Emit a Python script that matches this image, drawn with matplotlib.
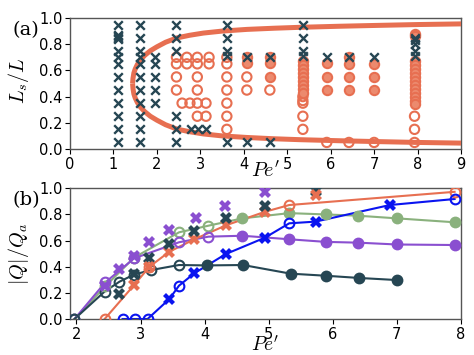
import matplotlib
matplotlib.use("Agg")
import matplotlib.pyplot as plt
import numpy as np

plt.rcParams['mathtext.fontset'] = 'cm'

ORANGE = '#e76f51'
DARK = '#264653'
GREEN = '#8ab17d'
PURPLE = '#8a4fd0'
BLUE = '#0a14f0'

# ---------------- panel (a) data ----------------
curve_up_x = [1.44, 1.45, 1.47, 1.50, 1.55, 1.62, 1.72, 1.85, 2.00, 2.20, 2.46, 2.75, 3.07, 3.50, 4.07, 4.70, 5.30, 6.20, 7.00, 8.00, 9.00]
curve_up_y = [0.50, 0.54, 0.58, 0.61, 0.645, 0.68, 0.715, 0.75, 0.78, 0.815, 0.848, 0.868, 0.885, 0.900, 0.913, 0.922, 0.929, 0.937, 0.943, 0.950, 0.955]
curve_lo_x = [1.44, 1.45, 1.47, 1.50, 1.55, 1.62, 1.72, 1.85, 2.00, 2.20, 2.46, 2.75, 3.07, 3.50, 4.07, 4.70, 5.30, 6.20, 7.00, 8.00, 9.00]
curve_lo_y = [0.50, 0.46, 0.42, 0.39, 0.355, 0.32, 0.285, 0.25, 0.22, 0.185, 0.152, 0.132, 0.115, 0.100, 0.088, 0.078, 0.071, 0.063, 0.057, 0.050, 0.045]

cross_x = ([1.10] * 14 + [1.62] * 11 + [1.96] * 5 + [2.44] * 6 + [2.78, 2.95, 3.12]
           + [3.61] * 5 + [4.07] * 2 + [4.60] * 2 + [5.36] * 4 + [5.91, 6.42, 7.00] + [7.93] * 5)
cross_y = ([0.95, 0.87, 0.86, 0.85, 0.84, 0.75, 0.70, 0.65, 0.55, 0.45, 0.35, 0.25, 0.15, 0.05]
           + [0.95, 0.85, 0.75, 0.70, 0.65, 0.55, 0.45, 0.35, 0.25, 0.15, 0.05]
           + [0.70, 0.65, 0.55, 0.45, 0.35]
           + [0.95, 0.85, 0.75, 0.25, 0.15, 0.05]
           + [0.15, 0.15, 0.15]
           + [0.95, 0.85, 0.75, 0.71, 0.05]
           + [0.70, 0.05] + [0.70, 0.05]
           + [0.95, 0.85, 0.75, 0.71]
           + [0.70, 0.70, 0.70]
           + [0.85, 0.83, 0.80, 0.75, 0.71])

open_x = ([2.45, 2.69, 2.93, 3.20] * 2 + [2.45, 2.93] * 2 + [2.58, 2.76, 2.93, 3.13] + [2.93, 3.13]
          + [3.61] * 7 + [4.07, 4.07] + [4.60] + [5.36] * 5 + [5.91, 6.42, 7.00] + [7.93] * 3)
open_y = ([0.70] * 4 + [0.65] * 4 + [0.55, 0.55, 0.45, 0.45] + [0.35] * 4 + [0.25, 0.25]
          + [0.70, 0.65, 0.55, 0.45, 0.35, 0.25, 0.15] + [0.55, 0.45] + [0.45]
          + [0.40, 0.37, 0.35, 0.25, 0.15] + [0.05, 0.05, 0.05] + [0.25, 0.15, 0.05])

fill_x = ([4.07, 4.07] + [4.60] * 3 + [5.36] * 9 + [5.91] * 3 + [6.42] * 4 + [7.00] * 3 + [7.93] * 14)
fill_y = ([0.70, 0.66] + [0.70, 0.66, 0.55]
          + [0.67, 0.64, 0.61, 0.58, 0.55, 0.52, 0.49, 0.46, 0.43]
          + [0.66, 0.55, 0.45] + [0.70, 0.65, 0.55, 0.45] + [0.65, 0.55, 0.45]
          + [0.88, 0.86, 0.67, 0.64, 0.61, 0.58, 0.55, 0.52, 0.49, 0.46, 0.43, 0.40, 0.37, 0.34])

# ---------------- panel (b) data ----------------
dark_x = [1.97, 2.44, 2.67, 2.90, 3.17, 3.60, 4.03, 4.60, 5.34, 5.89, 6.41, 7.00]
dark_y = [0.0, 0.21, 0.285, 0.34, 0.375, 0.413, 0.41, 0.413, 0.347, 0.331, 0.314, 0.298]
dark_fill = [False] * 6 + [True] * 6

green_x = [1.97, 2.45, 2.90, 3.60, 4.06, 4.59, 5.32, 5.89, 6.40, 7.00, 7.90]
green_y = [0.0, 0.25, 0.47, 0.663, 0.714, 0.77, 0.81, 0.80, 0.79, 0.77, 0.74]
green_fill = [False] * 5 + [True] * 6

purple_x = [1.97, 2.45, 2.90, 3.60, 4.06, 4.59, 5.32, 5.89, 6.40, 7.00, 7.90]
purple_y = [0.0, 0.28, 0.464, 0.587, 0.63, 0.637, 0.61, 0.59, 0.584, 0.57, 0.566]
purple_fill = [False] * 5 + [True] * 6

orange_x = [2.44, 2.90, 3.14, 3.45, 3.84, 4.34, 4.94, 5.32, 7.90]
orange_y = [0.0, 0.26, 0.40, 0.515, 0.61, 0.718, 0.82, 0.872, 0.973]
orange_mk = ['o', 'X', 'o', 'X', 'X', 'X', 'X', 'o', 'o']

blue_x = [2.72, 2.91, 3.11, 3.45, 3.60, 3.84, 4.33, 4.94, 5.32, 5.73, 6.89, 7.90]
blue_y = [0.0, 0.0, 0.0, 0.153, 0.255, 0.35, 0.497, 0.622, 0.732, 0.745, 0.872, 0.918]
blue_mk = ['o', 'o', 'o', 'X', 'o', 'X', 'X', 'X', 'o', 'X', 'X', 'o']

purpleX_x = [2.45, 2.67, 2.90, 3.14, 3.45, 3.86, 4.32, 4.94]
purpleX_y = [0.25, 0.38, 0.48, 0.59, 0.68, 0.77, 0.865, 0.97]
darkX_x = [2.67, 2.90, 3.14, 3.45, 3.84, 4.33, 4.94, 5.74]
darkX_y = [0.19, 0.345, 0.47, 0.575, 0.675, 0.77, 0.867, 0.98]
orangeX_x = [3.14, 5.74]
orangeX_y = [0.40, 0.95]

fig = plt.figure(figsize=(4.74, 3.55), dpi=100)
ax1 = fig.add_axes([0.1477, 0.5803, 0.9726 - 0.1477, 0.9493 - 0.5803])
ax2 = fig.add_axes([0.1477, 0.1014, 0.9726 - 0.1477, 0.4696 - 0.1014])

# panel (a)
ax1.plot(curve_up_x, curve_up_y, color=ORANGE, lw=3.6, solid_capstyle='butt', zorder=3)
ax1.plot(curve_lo_x, curve_lo_y, color=ORANGE, lw=3.6, solid_capstyle='butt', zorder=3)
ax1.scatter(open_x, open_y, s=45, facecolors='none', edgecolors=ORANGE, linewidths=1.5, zorder=2)
ax1.scatter(fill_x, fill_y, s=45, facecolors='#ec8a6e', edgecolors=ORANGE, linewidths=1.5, zorder=2)
ax1.scatter(cross_x, cross_y, s=38, marker='x', color=DARK, linewidths=1.7, zorder=4)
ax1.set_xlim(0, 9)
ax1.set_ylim(0, 1)
ax1.set_xticks(range(0, 10))
ax1.set_yticks([0.0, 0.2, 0.4, 0.6, 0.8, 1.0])
ax1.set_ylabel(r'$L_s/L$', fontsize=14.5)
ax1.yaxis.set_label_coords(-0.10, 0.52)
ax1.set_xlabel(r"$Pe'$", fontsize=14.5, labelpad=-8)
ax1.text(-0.148, 0.91, '(a)', transform=ax1.transAxes, fontsize=14,
         family='DejaVu Serif', va='center', ha='left')

# panel (b)
def series(ax, xs, ys, color, fills):
    ax.plot(xs, ys, color=color, lw=1.5, zorder=2)
    for x, y, f in zip(xs, ys, fills):
        ax.plot([x], [y], 'o', ms=7, mew=1.5, mec=color,
                mfc=(color if f else 'none'), zorder=3)

series(ax2, green_x, green_y, GREEN, green_fill)
series(ax2, purple_x, purple_y, PURPLE, purple_fill)
series(ax2, dark_x, dark_y, DARK, dark_fill)

ax2.plot(orange_x, orange_y, color=ORANGE, lw=1.5, zorder=2)
for x, y, m in zip(orange_x, orange_y, orange_mk):
    if m == 'o':
        ax2.plot([x], [y], 'o', ms=7, mew=1.5, mec=ORANGE, mfc='none', zorder=3)
    else:
        ax2.plot([x], [y], 'X', ms=9, mew=0, color=ORANGE, zorder=3)

ax2.plot(blue_x, blue_y, color=BLUE, lw=1.5, zorder=2)
for x, y, m in zip(blue_x, blue_y, blue_mk):
    if m == 'o':
        ax2.plot([x], [y], 'o', ms=7, mew=1.5, mec=BLUE, mfc='none', zorder=3)
    else:
        ax2.plot([x], [y], 'X', ms=9, mew=0, color=BLUE, zorder=3)

ax2.plot(purpleX_x, purpleX_y, 'X', ms=9, mew=0, color=PURPLE, ls='none', zorder=4)
ax2.plot(darkX_x, darkX_y, 'X', ms=9, mew=0, color=DARK, ls='none', zorder=4)
ax2.plot(orangeX_x, orangeX_y, 'X', ms=9, mew=0, color=ORANGE, ls='none', zorder=4)

ax2.set_xlim(1.9, 8.0)
ax2.set_ylim(0, 1)
ax2.set_xticks(range(2, 9))
ax2.set_yticks([0.0, 0.2, 0.4, 0.6, 0.8, 1.0])
ax2.set_ylabel(r'$|Q|/Q_a$', fontsize=14.5)
ax2.yaxis.set_label_coords(-0.10, 0.5)
ax2.set_xlabel(r"$Pe'$", fontsize=14, labelpad=-4.5)
ax2.text(-0.148, 0.91, '(b)', transform=ax2.transAxes, fontsize=14,
         family='DejaVu Serif', va='center', ha='left')

for ax in (ax1, ax2):
    ax.tick_params(labelsize=10.5, length=3.5, width=0.8, pad=2)
    for s in ax.spines.values():
        s.set_color('#555555')
        s.set_linewidth(1.0)

fig.savefig('out.png', dpi=100)
